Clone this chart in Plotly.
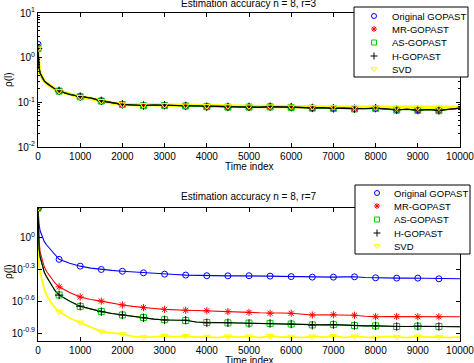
import plotly.graph_objects as go

# ---------------- data ----------------
t = [0, 10, 25, 50, 100, 150, 200, 300, 400,
     500, 750, 1000, 1250, 1500, 1750, 2000, 2250, 2500, 2750, 3000, 3250, 3500, 3750,
     4000, 4250, 4500, 4750, 5000, 5250, 5500, 5750, 6000, 6250, 6500, 6750, 7000, 7250,
     7500, 7750, 8000, 8250, 8500, 8750, 9000, 9250, 9500, 9750, 10000]

names = ["Original GOPAST", "MR-GOPAST", "AS-GOPAST", "H-GOPAST", "SVD"]

# top panel: n = 8, r = 3
top_orig = [2.0, 0.95, 0.62, 0.46, 0.35, 0.3, 0.27, 0.23, 0.2,
            0.18, 0.15, 0.135, 0.125, 0.108, 0.098, 0.09, 0.087, 0.085, 0.087, 0.086, 0.085, 0.083, 0.082,
            0.08, 0.081, 0.079, 0.08, 0.079, 0.078, 0.08, 0.078, 0.078, 0.077, 0.075, 0.076, 0.074, 0.074,
            0.072, 0.073, 0.074, 0.071, 0.068, 0.07, 0.067, 0.069, 0.066, 0.07, 0.074]
top_mr = [1.6, 0.9, 0.6, 0.45, 0.35, 0.3, 0.27, 0.23, 0.2,
          0.179, 0.151, 0.134, 0.126, 0.108, 0.097, 0.09, 0.087, 0.085, 0.086, 0.086, 0.085, 0.084, 0.082,
          0.08, 0.081, 0.079, 0.079, 0.079, 0.078, 0.079, 0.078, 0.078, 0.076, 0.075, 0.076, 0.074, 0.074,
          0.072, 0.073, 0.073, 0.071, 0.068, 0.07, 0.067, 0.069, 0.066, 0.07, 0.074]
top_as = [1.6, 0.9, 0.6, 0.45, 0.35, 0.3, 0.27, 0.23, 0.2,
          0.178, 0.152, 0.133, 0.124, 0.107, 0.099, 0.089, 0.088, 0.084, 0.087, 0.085, 0.086, 0.083, 0.081,
          0.08, 0.08, 0.078, 0.08, 0.078, 0.078, 0.079, 0.077, 0.077, 0.077, 0.074, 0.075, 0.073, 0.073,
          0.071, 0.072, 0.073, 0.07, 0.067, 0.069, 0.066, 0.068, 0.065, 0.069, 0.073]
top_h = [1.6, 0.9, 0.6, 0.45, 0.35, 0.3, 0.27, 0.23, 0.2,
         0.18, 0.15, 0.135, 0.125, 0.108, 0.098, 0.09, 0.087, 0.085, 0.087, 0.086, 0.085, 0.083, 0.082,
         0.08, 0.081, 0.079, 0.08, 0.079, 0.077, 0.08, 0.078, 0.078, 0.077, 0.075, 0.076, 0.073, 0.074,
         0.072, 0.072, 0.074, 0.07, 0.068, 0.07, 0.067, 0.069, 0.066, 0.07, 0.074]
top_svd = [1.6, 0.85, 0.58, 0.44, 0.35, 0.3, 0.27, 0.23, 0.2,
           0.178, 0.15, 0.132, 0.122, 0.107, 0.097, 0.09, 0.088, 0.087, 0.088, 0.087, 0.086, 0.085, 0.084,
           0.083, 0.083, 0.082, 0.082, 0.081, 0.081, 0.081, 0.08, 0.08, 0.08, 0.079, 0.079, 0.078, 0.078,
           0.078, 0.077, 0.077, 0.077, 0.076, 0.076, 0.076, 0.076, 0.076, 0.077, 0.078]

# bottom panel: n = 8, r = 7
bot_orig = [1.88, 1.58, 1.32, 1.15, 1.0, 0.91, 0.85, 0.76, 0.68,
            0.62, 0.569, 0.535, 0.513, 0.498, 0.488, 0.479, 0.471, 0.463, 0.457, 0.45, 0.446, 0.441, 0.438,
            0.435, 0.435, 0.434, 0.434, 0.435, 0.432, 0.431, 0.429, 0.427, 0.424, 0.422, 0.423, 0.422, 0.424,
            0.425, 0.419, 0.416, 0.415, 0.413, 0.414, 0.413, 0.41, 0.407, 0.407, 0.407]
bot_mr = [1.88, 1.26, 0.93, 0.73, 0.603, 0.525, 0.479, 0.417, 0.372,
          0.342, 0.302, 0.275, 0.26, 0.251, 0.24, 0.231, 0.224, 0.218, 0.214, 0.21, 0.207, 0.206, 0.205,
          0.204, 0.202, 0.2, 0.198, 0.197, 0.195, 0.193, 0.194, 0.193, 0.189, 0.186, 0.187, 0.187, 0.186,
          0.185, 0.181, 0.179, 0.18, 0.18, 0.179, 0.179, 0.179, 0.179, 0.179, 0.179]
bot_as = [1.88, 1.0, 0.79, 0.655, 0.537, 0.468, 0.427, 0.363, 0.316,
          0.287, 0.25, 0.224, 0.211, 0.201, 0.192, 0.186, 0.181, 0.176, 0.17, 0.168, 0.166, 0.165, 0.16,
          0.158, 0.158, 0.157, 0.156, 0.156, 0.155, 0.155, 0.154, 0.153, 0.151, 0.15, 0.15, 0.151, 0.149,
          0.148, 0.147, 0.147, 0.146, 0.145, 0.145, 0.146, 0.145, 0.145, 0.144, 0.144]
bot_h = [1.88, 1.0, 0.79, 0.655, 0.537, 0.468, 0.427, 0.363, 0.316,
         0.286, 0.251, 0.225, 0.211, 0.2, 0.192, 0.186, 0.18, 0.175, 0.17, 0.167, 0.166, 0.166, 0.16,
         0.157, 0.158, 0.157, 0.156, 0.155, 0.155, 0.155, 0.154, 0.153, 0.151, 0.149, 0.15, 0.151, 0.149,
         0.148, 0.147, 0.147, 0.145, 0.145, 0.145, 0.146, 0.145, 0.145, 0.144, 0.144]
bot_svd = [1.88, 0.71, 0.56, 0.468, 0.38, 0.324, 0.288, 0.245, 0.219,
           0.2, 0.174, 0.158, 0.141, 0.13, 0.126, 0.123, 0.117, 0.115, 0.116, 0.118, 0.116, 0.118, 0.115,
           0.116, 0.114, 0.117, 0.115, 0.117, 0.114, 0.118, 0.115, 0.116, 0.114, 0.117, 0.115, 0.118, 0.114,
           0.117, 0.115, 0.114, 0.117, 0.116, 0.114, 0.117, 0.115, 0.116, 0.114, 0.116]

x_ticks = [0, 1000, 2000, 3000, 4000, 5000, 6000, 7000, 8000, 9000, 10000]
x_ticktext = [str(v) for v in x_ticks]
top_yticks = [0.01, 0.1, 1, 10]
top_yticktext = ["10<sup>-2</sup>", "10<sup>-1</sup>", "10<sup>0</sup>", "10<sup>1</sup>"]
bot_yticks = [1.0, 10 ** -0.3, 10 ** -0.6, 10 ** -0.9]
bot_yticktext = ["10<sup>0</sup>", "10<sup>-0.3</sup>", "10<sup>-0.6</sup>", "10<sup>-0.9</sup>"]
marker_step = 500

# ---------------- styles / layout (pixels) ----------------
W, H = 474, 363
colors = ["#0000ff", "#ff0000", "#00cc00", "#000000", "#ffff00"]
symbols = ["circle-open", "asterisk-open", "square-open", "cross-thin-open", "triangle-down-open"]
FONT = "Liberation Sans, Arial, Helvetica, sans-serif"

PX_L, PX_R = 38, 460
TOP_T, TOP_B = 13, 147
BOT_T, BOT_B = 208, 341

def fx(px):
    return px / W

def fy(py):
    return 1 - py / H

fig = go.Figure()

def add_panel(series, xa, ya, yellow_w):
    order = [4, 0, 1, 2, 3]
    for i in order:
        fig.add_trace(go.Scatter(
            x=t, y=series[i], mode="lines", xaxis=xa, yaxis=ya,
            line=dict(color=colors[i], width=yellow_w if i == 4 else 1.1),
            showlegend=False, hoverinfo="skip"))
    for i in range(5):
        mx = [tt for tt in t if tt % marker_step == 0 and tt < t[-1]]
        my = [series[i][t.index(tt)] for tt in mx]
        fig.add_trace(go.Scatter(
            x=mx, y=my, mode="markers", xaxis=xa, yaxis=ya, name=names[i],
            showlegend=False, hoverinfo="skip",
            marker=dict(symbol=symbols[i], size=6, color=colors[i],
                        line=dict(color=colors[i], width=1))))

add_panel([top_orig, top_mr, top_as, top_h, top_svd], "x", "y", 3.5)
add_panel([bot_orig, bot_mr, bot_as, bot_h, bot_svd], "x2", "y2", 1.8)

# ---- custom legends drawn on a pixel overlay axis ----
annotations = []
def add_legend(box, mark_x, text_x, rows):
    x0, x1, y0, y1 = box
    fig.add_trace(go.Scatter(
        x=[x0, x1, x1, x0, x0], y=[y0, y0, y1, y1, y0], mode="lines",
        fill="toself", fillcolor="white", line=dict(color="black", width=1),
        xaxis="x3", yaxis="y3", showlegend=False, hoverinfo="skip"))
    for i in range(5):
        fig.add_trace(go.Scatter(
            x=[mark_x], y=[rows[i]], mode="markers", xaxis="x3", yaxis="y3",
            showlegend=False, hoverinfo="skip",
            marker=dict(symbol=symbols[i], size=5, color=colors[i],
                        line=dict(color=colors[i], width=1))))
        annotations.append(dict(text=names[i], x=text_x, y=rows[i], xref="x3", yref="y3",
                                xanchor="left", yanchor="middle", showarrow=False,
                                font=dict(size=9.5, color="black")))

add_legend((354, 468, 7, 77), 374, 390, [16, 29, 42.5, 56, 69])
add_legend((355, 470, 185, 254), 377, 392, [193, 206, 219.5, 233, 246])

# titles and axis labels (pixel positions)
def add_text(txt, x, y, angle=0):
    annotations.append(dict(text=txt, x=x, y=y, xref="x3", yref="y3", showarrow=False,
                            xanchor="center", yanchor="middle", textangle=angle,
                            font=dict(size=10, color="black")))

add_text("Estimation accuracy n = 8, r=3", 249, 3)
add_text("Estimation accuracy n = 8, r=7", 249, 196)
add_text("Time index", 249, 166)
add_text("Time index", 249, 360)
add_text("ρ(l)", 8, 80, -90)
add_text("ρ(l)", 8, 272, -90)

axis_common = dict(showline=True, linecolor="black", linewidth=1, mirror="ticks",
                   ticks="inside", ticklen=4, tickcolor="black", showgrid=False,
                   zeroline=False, automargin=False, ticklabeloverflow="allow",
                   tickfont=dict(size=10, color="black", family=FONT))

top_minor = [m * 10 ** e for e in (-2, -1, 0) for m in range(2, 10)]

fig.update_layout(
    width=W, height=H,
    margin=dict(l=0, r=0, t=0, b=0),
    paper_bgcolor="white", plot_bgcolor="rgba(0,0,0,0)",
    font=dict(family=FONT, size=10, color="black"),
    showlegend=False,
    xaxis=dict(domain=[fx(PX_L), fx(PX_R)], anchor="y", range=[0, 10000],
               tickvals=x_ticks, ticktext=x_ticktext, **axis_common),
    yaxis=dict(domain=[fy(TOP_B), fy(TOP_T)], anchor="x", type="log", range=[-2, 1],
               tickvals=top_yticks, ticktext=top_yticktext,
               minor=dict(tickvals=top_minor, ticks="inside", ticklen=2, tickcolor="black"),
               **axis_common),
    xaxis2=dict(domain=[fx(PX_L), fx(PX_R)], anchor="y2", range=[0, 10000],
                tickvals=x_ticks, ticktext=x_ticktext, **axis_common),
    yaxis2=dict(domain=[fy(BOT_B), fy(BOT_T)], anchor="x2", type="log", range=[-0.975, 0.275],
                tickvals=bot_yticks, ticktext=bot_yticktext, **axis_common),
    xaxis3=dict(domain=[0, 1], anchor="y3", range=[0, W], visible=False, fixedrange=True),
    yaxis3=dict(domain=[0, 1], anchor="x3", range=[H, 0], visible=False, fixedrange=True),
    annotations=annotations,
)

fig.write_html("out.html",
               config={"displayModeBar": False, "staticPlot": True},
               post_script="document.body.style.margin='0';document.body.style.overflow='hidden';")
